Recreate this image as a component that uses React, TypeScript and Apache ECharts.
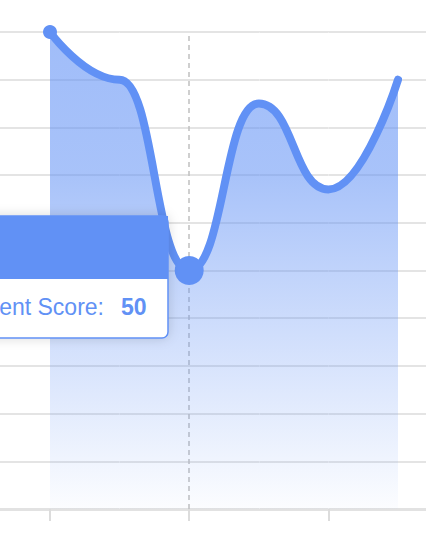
import React, { useEffect, useRef } from "react";
import * as echarts from "echarts";

const categories = ["Mon", "Tue", "Wed", "Thu", "Fri", "Sat"];
const scores = [100, 90, 50, 85, 67, 90];
const yMin = 0;
const yMax = 100;
const yStep = 10;
const activeIndex = 2;
const seriesName = "Student Score";
const stripeIndices = [1, 3, 4];

const BLUE = "#6191f5";

export default function App() {
  const ref = useRef<HTMLDivElement>(null);

  useEffect(() => {
    if (!ref.current) return;
    const chart = echarts.init(ref.current, undefined, { renderer: "svg" });
    const option: any = {
      animation: false,
      grid: [
        { left: 50, width: 348, top: 32, bottom: 29 },
        { left: 0, right: 0, top: 32, bottom: 29 },
      ],
      xAxis: [
        {
          type: "category",
          gridIndex: 0,
          data: categories,
          boundaryGap: false,
          axisLine: { show: false },
          axisTick: { show: true, interval: 1, length: 12, lineStyle: { color: "#dcdcdc", width: 2 } },
          axisLabel: { show: false },
          splitLine: { show: false },
        },
        {
          type: "value",
          gridIndex: 1,
          min: 0,
          max: 1,
          axisLine: { show: true, lineStyle: { color: "#e2e2e2", width: 3 } },
          axisTick: { show: false },
          axisLabel: { show: false },
          splitLine: { show: false },
        },
      ],
      yAxis: [
        { type: "value", gridIndex: 0, min: yMin, max: yMax, interval: yStep, show: false },
        {
          type: "value",
          gridIndex: 1,
          min: yMin,
          max: yMax,
          interval: yStep,
          axisLine: { show: false },
          axisTick: { show: false },
          axisLabel: { show: false },
          splitLine: { show: true, lineStyle: { color: "#e4e4e4", width: 2 } },
        },
      ],
      series: [
        {
          name: seriesName,
          type: "line",
          xAxisIndex: 0,
          yAxisIndex: 0,
          data: scores,
          smooth: 0.5,
          smoothMonotone: "x",
          showSymbol: true,
          symbol: (_v: any, p: any) => (p.dataIndex === activeIndex || p.dataIndex === 0 ? "circle" : "none"),
          symbolSize: (_v: any, p: any) => (p.dataIndex === activeIndex ? 29 : 14),
          itemStyle: { color: BLUE, borderWidth: 0 },
          lineStyle: { color: BLUE, width: 8, cap: "round", join: "round" },
          areaStyle: {
            opacity: 1,
            color: new echarts.graphic.LinearGradient(0, 0, 0, 1, [
              { offset: 0, color: "rgba(97,145,245,0.6)" },
              { offset: 0.3, color: "rgba(97,145,245,0.55)" },
              { offset: 1, color: "rgba(97,145,245,0.02)" },
            ]),
          },
          markLine: {
            silent: true,
            symbol: ["none", "none"],
            label: { show: false },
            z: 1,
            data: [
              { xAxis: activeIndex, lineStyle: { type: [5, 4], color: "#c0c0c0", width: 1.5 } },
              ...stripeIndices.map((i) => ({
                xAxis: i,
                lineStyle: { type: "solid", color: "rgba(255,255,255,0.3)", width: 1 },
              })),
            ],
          },
        },
      ],
      graphic: [
        {
          type: "group",
          z: 100,
          children: [
            {
              type: "rect",
              shape: { x: -90, y: 216, width: 258, height: 122, r: [0, 6, 6, 0] },
              style: {
                fill: "#ffffff",
                stroke: BLUE,
                lineWidth: 1.5,
                shadowBlur: 12,
                shadowColor: "rgba(0,0,0,0.15)",
              },
              z: 100,
            },
            {
              type: "rect",
              shape: { x: -90, y: 216, width: 258, height: 63 },
              style: { fill: BLUE },
              z: 101,
            },
            {
              type: "text",
              x: 104,
              y: 307,
              style: {
                text: seriesName + ":",
                align: "right",
                verticalAlign: "middle",
                fontSize: 23,
                fontFamily: "Liberation Sans",
                fill: BLUE,
              },
              z: 102,
            },
            {
              type: "text",
              x: 121,
              y: 307,
              style: {
                text: String(scores[activeIndex]),
                align: "left",
                verticalAlign: "middle",
                fontSize: 23,
                fontWeight: "bold",
                fontFamily: "Liberation Sans",
                fill: BLUE,
              },
              z: 102,
            },
          ],
        },
      ],
    };
    chart.setOption(option);
    return () => chart.dispose();
  }, []);

  return (
    <div
      ref={ref}
      style={{ position: "absolute", left: 0, top: 0, width: 426, height: 538, background: "#ffffff" }}
    />
  );
}
